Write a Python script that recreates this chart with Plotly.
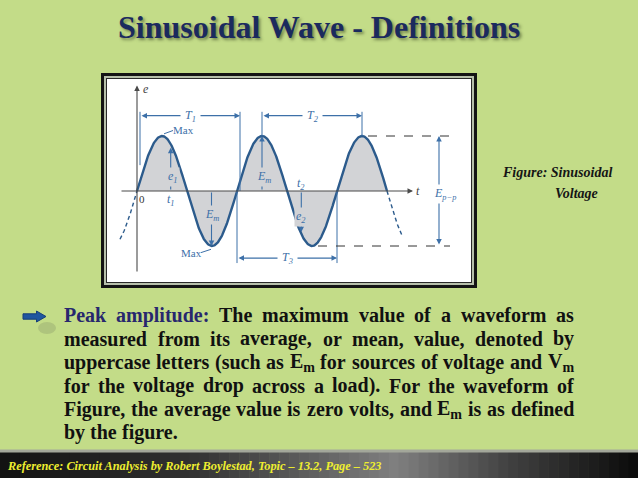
import re
import numpy as np
import plotly.graph_objects as go

W, H = 638, 478

# ---------------- text content ----------------
TITLE = "Sinusoidal Wave - Definitions"
CAPTION_LINES = ["Figure: Sinusoidal", "Voltage"]
BODY_LINES = [
    "Peak amplitude: The maximum value of a waveform as",
    "measured from its average, or mean, value, denoted by",
    "uppercase letters (such as E<sub>m</sub> for sources of voltage and V<sub>m</sub>",
    "for the voltage drop across a load). For the waveform of",
    "Figure, the average value is zero volts, and E<sub>m</sub> is as defined",
    "by the figure.",
]
HIGHLIGHT_WORDS = 2          # "Peak amplitude:" drawn in navy
REFERENCE = "Reference: Circuit Analysis by Robert Boylestad, Topic \u2013 13.2, Page \u2013 523"

# ---------------- waveform definition (units: periods, Em) ----------------
EM = 1.0          # peak amplitude
PERIOD = 1.0
CYCLES = 2.5      # shaded portion 0 .. 2.5 T
LEAD_IN = 0.17    # dashed continuation before t = 0
TAIL = 0.15       # dashed continuation after the last zero
N = 600

T1_SPAN = [0.03, 1.03]
T2_SPAN = [1.25, 2.25]
T3_SPAN = [1.0, 2.0]
T_1 = 0.337
T_2 = 1.643

# ---------------- colours ----------------
BG = "#c3dc88"
CURVE = "#2c5b8c"
ANN = "#3d70a8"
FILL = "#d2d3d6"
AXIS = "#4a4a4a"


def px(x):
    return x / W


def py(y):
    return 1 - y / H


def wave(t):
    return EM * np.sin(2 * np.pi * t / PERIOD)


fig = go.Figure()

t_main = np.linspace(0, CYCLES * PERIOD, N)
fig.add_trace(go.Scatter(x=t_main, y=wave(t_main), mode="lines",
                         line=dict(color=CURVE, width=2.4),
                         fill="tozeroy", fillcolor=FILL, hoverinfo="skip"))
t_lead = np.linspace(-LEAD_IN, 0, 40)
fig.add_trace(go.Scatter(x=t_lead, y=wave(t_lead), mode="lines",
                         line=dict(color=CURVE, width=1.4, dash="4px,3px"), hoverinfo="skip"))
t_tail = np.linspace(CYCLES * PERIOD, CYCLES * PERIOD + TAIL, 40)
fig.add_trace(go.Scatter(x=t_tail, y=wave(t_tail), mode="lines",
                         line=dict(color=CURVE, width=1.4, dash="4px,3px"), hoverinfo="skip"))

shapes = []
annotations = []

# ---------------- slide decorations ----------------
def prect(x0, y0, x1, y1, color, layer="below"):
    shapes.append(dict(type="rect", xref="paper", yref="paper",
                       x0=px(x0), x1=px(x1), y0=py(y1), y1=py(y0),
                       fillcolor=color, line=dict(width=0), layer=layer))

# picture frame
prect(101, 73, 477, 288, "#141414")
prect(104, 76, 474, 285, "#b6bfaa")
prect(106, 78, 472, 283, "#2a2a2a")
prect(107, 79, 471, 282, "#ffffff")

# bottom bar with horizontal gradient
stops = [(0.0, 18), (0.3, 50), (0.62, 128), (0.8, 65), (1.0, 10)]


def grad(f):
    for (f0, c0), (f1, c1) in zip(stops[:-1], stops[1:]):
        if f0 <= f <= f1:
            return c0 + (c1 - c0) * (f - f0) / (f1 - f0)
    return stops[-1][1]


nslice = 64
for i in range(nslice):
    x0 = W * i / nslice
    x1 = W * (i + 1) / nslice + 0.6
    c = int(grad((i + 0.5) / nslice))
    prect(x0, 452, x1, 478, f"rgb({c},{c},{c})")
prect(0, 449.5, W, 452.5, "#a3a79a")

# blue arrow bullet
ax0, ax1, ah, acy = 23, 46, 36.5, 316.5
path = (f"M {px(ax0)} {py(acy-2.7)} L {px(ah)} {py(acy-2.7)} L {px(ah)} {py(acy-5.5)} "
        f"L {px(ax1)} {py(acy)} L {px(ah)} {py(acy+5.5)} L {px(ah)} {py(acy+2.7)} "
        f"L {px(ax0)} {py(acy+2.7)} Z")
shapes.append(dict(type="circle", xref="paper", yref="paper",
                   x0=px(38), x1=px(56), y0=py(334), y1=py(322),
                   fillcolor="rgba(110,125,90,0.25)", line=dict(width=0)))
shapes.append(dict(type="path", xref="paper", yref="paper", path=path,
                   fillcolor="#1f56a0", line=dict(color="#163f78", width=1)))

# ---------------- chart guides ----------------
def dline(x0, y0, x1, y1, color=ANN, width=1, dash="solid"):
    shapes.append(dict(type="line", xref="x", yref="y", x0=x0, y0=y0, x1=x1, y1=y1,
                       line=dict(color=color, width=width, dash=dash)))


def arrow(xt, yt, xh, yh, color=ANN, both=False, width=1.1):
    annotations.append(dict(x=xh, y=yh, ax=xt, ay=yt, xref="x", yref="y",
                            axref="x", ayref="y", text="", showarrow=True,
                            arrowhead=2, arrowsize=1.0, arrowwidth=width,
                            arrowcolor=color,
                            arrowside="end+start" if both else "end"))


def label(x, y, text, size=12, color=ANN, italic=True, bg=None):
    annotations.append(dict(x=x, y=y, xref="x", yref="y", text=text, showarrow=False,
                            xanchor="center", yanchor="middle",
                            font=dict(family="Liberation Serif", size=size, color=color,
                                      style="italic" if italic else "normal"),
                            bgcolor=bg, borderpad=1))


def ptext(x, y, text, size, color, xanchor="center", **font_extra):
    annotations.append(dict(x=px(x), y=py(y), xref="paper", yref="paper",
                            xanchor=xanchor, yanchor="middle",
                            text=text, showarrow=False,
                            font=dict(family="Liberation Serif", size=size, color=color,
                                      **font_extra)))


# axes
arrow(-LEAD_IN, 0, 2.76, 0, color=AXIS)
arrow(0, -1.49, 0, 1.92, color=AXIS)
label(0.09, 1.86, "e", size=12, color="#444")
label(2.81, 0.0, "t", size=12, color="#444")
label(0.045, -0.14, "0", size=11, color="#333", italic=False)

# periods
dline(T1_SPAN[0], 0.47, T1_SPAN[0], 1.44)
dline(T1_SPAN[1], 0.0, T1_SPAN[1], 1.44)
arrow(T1_SPAN[0], 1.37, T1_SPAN[1], 1.37, both=True)
label(sum(T1_SPAN) / 2, 1.37, " T<sub>1</sub> ", bg="#ffffff")

dline(T2_SPAN[0], EM, T2_SPAN[0], 1.44)
dline(T2_SPAN[1], EM, T2_SPAN[1], 1.44)
arrow(T2_SPAN[0], 1.37, T2_SPAN[1], 1.37, both=True)
label(sum(T2_SPAN) / 2, 1.37, " T<sub>2</sub> ", bg="#ffffff")

dline(T3_SPAN[0], 0.0, T3_SPAN[0], -1.31)
dline(T3_SPAN[1], 0.0, T3_SPAN[1], -1.31)
arrow(T3_SPAN[0], -1.22, T3_SPAN[1], -1.22, both=True)
label(sum(T3_SPAN) / 2, -1.22, " T<sub>3</sub> ", bg="#ffffff")

# peak-to-peak
dline(2.31, EM, 3.13, EM, color="#333", dash="dash")
dline(1.81, -EM, 3.13, -EM, color="#333", dash="dash")
arrow(3.02, -EM, 3.02, EM, both=True)
label(3.075, -0.05, "E<sub>p\u2212p</sub>", bg="#ffffff")

# instantaneous values and peaks
arrow(T_1, 0, T_1, 0.92 * wave(T_1))
label(T_1 + 0.025, 0.25, "e<sub>1</sub>", bg=FILL)
label(T_1, -0.17, "t<sub>1</sub>")
arrow(1.25, 0, 1.25, EM)
label(1.267, 0.25, "E<sub>m</sub>", bg=FILL)
arrow(0.745, 0, 0.745, -EM)
label(0.745, -0.44, "E<sub>m</sub>", bg=FILL)
arrow(T_2, 0, T_2, 0.95 * wave(T_2))
label(T_2, 0.12, "t<sub>2</sub>")
label(T_2, -0.47, "e<sub>2</sub>", bg=FILL)

dline(0.27, 1.04, 0.36, 1.10)
label(0.46, 1.11, "Max", size=11, italic=False)
dline(0.64, -1.12, 0.74, -1.06)
label(0.54, -1.12, "Max", size=11, italic=False)

# ---------------- slide text ----------------
ptext(319, 27, "<b>" + TITLE + "</b>", 32, "#1b2a5e",
      shadow="2px 2px 3px rgba(50,60,30,0.55)")

ptext(557, 173, "<b><i>" + CAPTION_LINES[0] + "</i></b>", 14, "#151515")
ptext(576.5, 193.5, "<b><i>" + CAPTION_LINES[1] + "</i></b>", 14, "#151515")

ptext(5, 465.5, "<b><i>" + REFERENCE + "</i></b>", 12.3, "#eeee30", xanchor="left")

# justified body text
TB = {" ": 250, "!": 333, "(": 333, ")": 333, ",": 250, "-": 333, ".": 250, ":": 333}
TB.update({d: 500 for d in "0123456789"})
TB.update(dict(zip("ABCDEFGHIJKLMNOPQRSTUVWXYZ",
                   [722, 667, 722, 722, 667, 611, 778, 778, 389, 500, 778, 667, 944,
                    722, 778, 611, 778, 722, 556, 667, 722, 722, 1000, 722, 722, 667])))
TB.update(dict(zip("abcdefghijklmnopqrstuvwxyz",
                   [500, 556, 444, 556, 444, 333, 500, 556, 278, 333, 556, 278, 833,
                    556, 500, 556, 556, 444, 389, 333, 556, 500, 722, 500, 500, 444])))


def text_width(s, size):
    total = 0.0
    for part in re.split(r"(<sub>.*?</sub>)", s):
        if part.startswith("<sub>"):
            total += 0.7 * sum(TB.get(c, 500) for c in part[5:-6])
        else:
            total += sum(TB.get(c, 500) for c in part)
    return total * size / 1000.0


BODY_SIZE = 20
LEFT, RIGHT = 64, 574
LINE_Y = [315, 338.5, 362, 385.5, 409, 432]
for li, (line, cy) in enumerate(zip(BODY_LINES, LINE_Y)):
    words = line.split(" ")
    widths = [text_width(w, BODY_SIZE) for w in words]
    last = li == len(BODY_LINES) - 1
    gap = TB[" "] * BODY_SIZE / 1000 if last else (RIGHT - LEFT - sum(widths)) / (len(words) - 1)
    x = LEFT
    for wi, (w, ww) in enumerate(zip(words, widths)):
        color = "#27276e" if (li == 0 and wi < HIGHLIGHT_WORDS) else "#111111"
        ptext(x + ww / 2, cy, "<b>" + w + "</b>", BODY_SIZE, color)
        x += ww + gap

# ---------------- layout ----------------
X_RANGE = [(107 - 137) / 100, (471 - 137) / 100]
Y_RANGE = [(191 - 282) / 55, (191 - 79) / 55]
fig.update_layout(
    width=W, height=H, autosize=False,
    margin=dict(l=0, r=0, t=0, b=0),
    paper_bgcolor=BG, plot_bgcolor="rgba(0,0,0,0)",
    showlegend=False,
    xaxis=dict(domain=[px(107), px(471)], range=X_RANGE, visible=False, fixedrange=True),
    yaxis=dict(domain=[py(282), py(79)], range=Y_RANGE, visible=False, fixedrange=True),
    shapes=shapes, annotations=annotations,
)

fig.write_html("out.html", config={"displayModeBar": False},
               post_script="document.body.style.margin='0';document.body.style.overflow='hidden';")
